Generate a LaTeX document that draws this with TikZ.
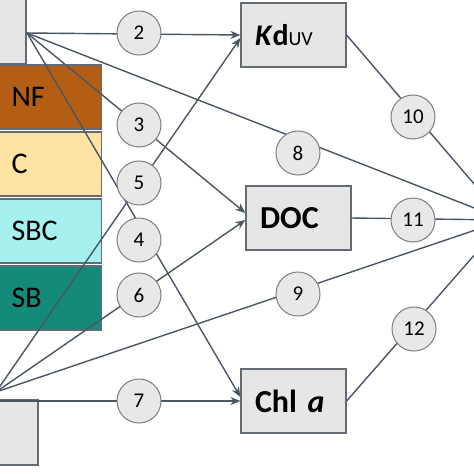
\documentclass[tikz,border=0pt]{standalone}
\usepackage{fontspec}
\setmainfont{Carlito}
\usetikzlibrary{arrows.meta}
\definecolor{linec}{HTML}{4A5566}
\definecolor{boxfill}{HTML}{E6E6E6}
\definecolor{boxdraw}{HTML}{646B75}
\definecolor{circfill}{HTML}{E8E8E9}
\definecolor{circdraw}{HTML}{7C7F85}
\definecolor{nfcol}{HTML}{B35E14}
\definecolor{ccol}{HTML}{FFE3A3}
\definecolor{sbccol}{HTML}{A6F1EF}
\definecolor{sbcol}{HTML}{148A7B}
\tikzset{
  conn/.style={draw=linec, line width=1.4pt},
  arr/.style={conn, -{Stealth[length=10pt,width=8pt]}},
  mainbox/.style={draw=boxdraw, fill=boxfill, line width=1.2pt, minimum height=64pt, inner xsep=14pt, inner ysep=0pt, text width=77pt, align=left, font=\fontsize{32}{32}\selectfont\bfseries},
  sidebox/.style={draw=boxdraw, line width=1.2pt, anchor=west, minimum height=64pt, inner xsep=16pt, inner ysep=0pt, text width=74pt, align=left, font=\fontsize{30}{30}\selectfont},
  greybox/.style={draw=boxdraw, fill=boxfill, line width=1.2pt},
  num/.style={circle, draw=circdraw, fill=circfill, line width=1pt, minimum size=44pt, inner sep=0pt, font=\fontsize{21}{21}\selectfont}
}
\begin{document}
\begin{tikzpicture}[x=1pt,y=-1pt]
\useasboundingbox (0,0) rectangle (474,474);
\clip (0,0) rectangle (474,474);
% left grey boxes
\draw[greybox] (-5,-5) rectangle (26,64);
\draw[greybox] (-5,400) rectangle (38,465);
% coloured boxes
\node[sidebox, fill=nfcol] (nf) at (-5,97) {NF};
\node[sidebox, fill=ccol] (c) at (-5,164) {C};
\node[sidebox, fill=sbccol] (sbc) at (-5,231) {SBC};
\node[sidebox, fill=sbcol] (sb) at (-5,298) {SB};
% main boxes
\node[mainbox] (kd) at (293.5,35) {\fontsize{30}{30}\selectfont\textit{K}d\mdseries\fontsize{20}{20}\selectfont UV};
\node[mainbox] (doc) at (298.5,218) {DOC};
\node[mainbox] (chl) at (293.5,401) {Chl \textit{a}};
% convergence points
\coordinate (A) at (27,33);
\coordinate (B) at (-4,392);
\coordinate (B7) at (-5,401);
\coordinate (R) at (505,220);
% connectors
\draw[arr] (A) -- (kd.west);
\draw[arr] (A) -- ([yshift=5pt]doc.west);
\draw[arr] (A) -- ([yshift=4pt]chl.west);
\draw[arr] (B) -- ([yshift=-3pt]kd.west);
\draw[arr] (B) -- ([yshift=-2pt]doc.west);
\draw[arr] (B7) -- (chl.west);
\draw[conn] (A) -- (R);
\draw[conn] (B) -- (R);
\draw[conn] (kd.east) -- (R);
\draw[conn] (doc.east) -- (R);
\draw[conn] (chl.east) -- (R);
% numbered circles
\node[num] (n2) at (139,33) {2};
\node[num] (n3) at (139,125) {3};
\node[num] (n5) at (139,183) {5};
\node[num] (n4) at (139,240) {4};
\node[num] (n6) at (139,295) {6};
\node[num] (n7) at (139,401) {7};
\node[num] (n8) at (298,153) {8};
\node[num] (n9) at (298,294) {9};
\node[num] (n10) at (413,117) {10};
\node[num] (n11) at (413,220) {11};
\node[num] (n12) at (414,329) {12};
\end{tikzpicture}
\end{document}
